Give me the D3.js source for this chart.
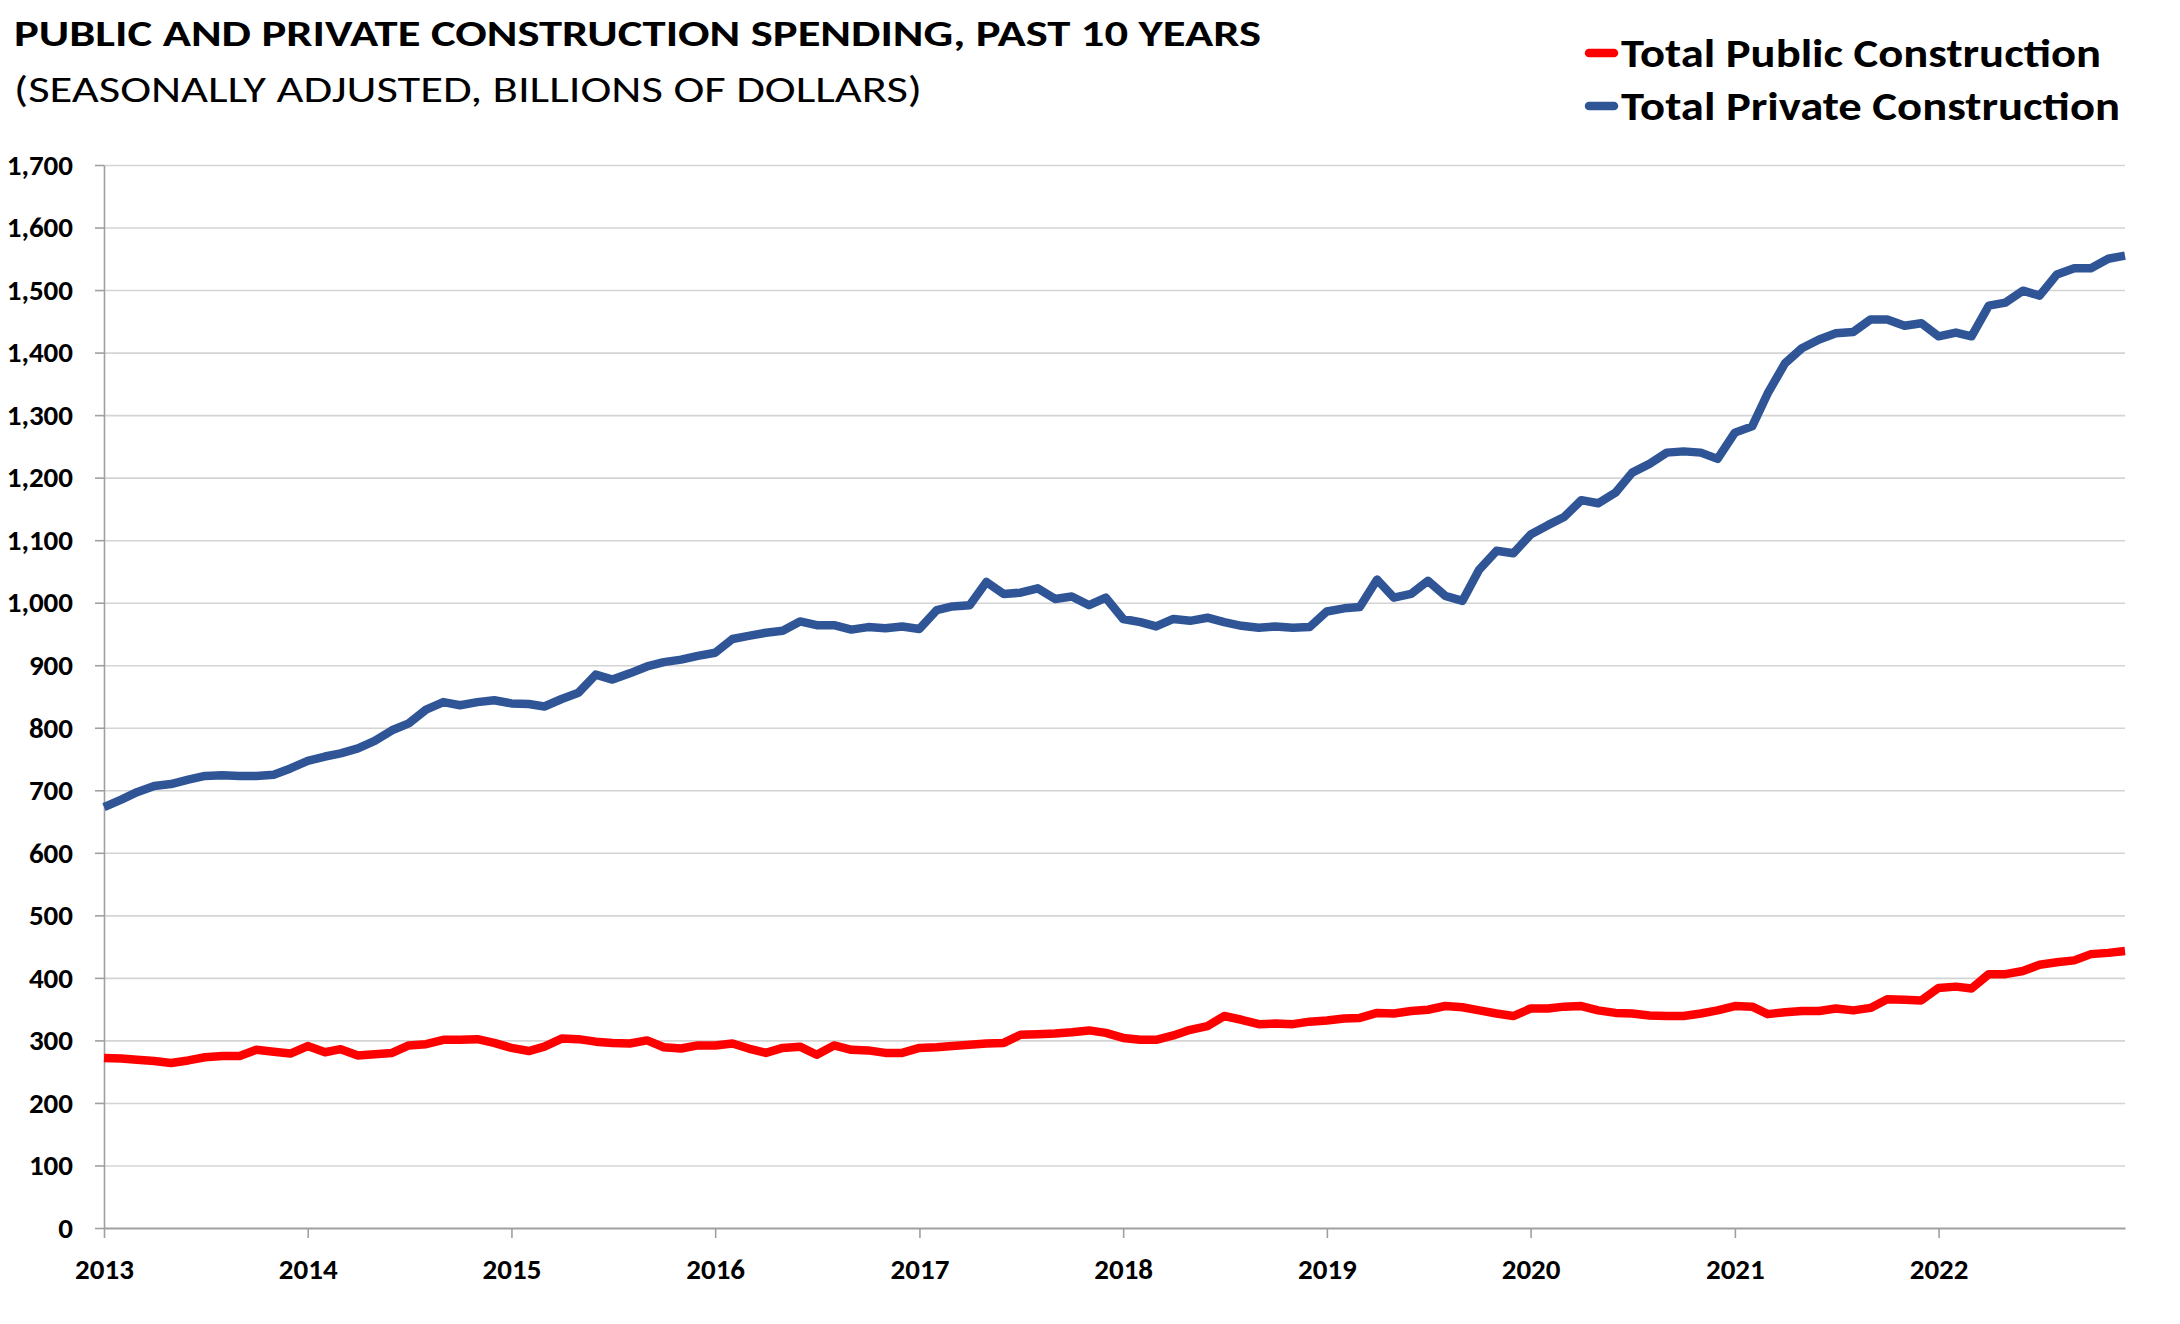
<!DOCTYPE html>
<html>
<head>
<meta charset="utf-8">
<script src="https://cdn.jsdelivr.net/npm/d3@7"></script>
<style>
  body { margin: 0; background: #fff; }
  text { font-family: Calibri, Carlito, Lato, sans-serif; fill: #000; }
</style>
</head>
<body>
<script>
// monthly values, Jan 2013 .. Dec 2022 (billions of dollars, SAAR)
var publicSpend = [
  272, 271, 269, 267, 264, 268, 273, 275, 275, 285, 282, 279,
  291, 281, 286, 276, 278, 280, 292, 294, 301, 301, 302, 296,
  288, 283, 290, 303, 302, 298, 296, 295, 300, 289, 287, 292,
  292, 295, 287, 280, 288, 290, 277, 292, 285, 284, 280, 280,
  288, 289, 291, 293, 295, 296, 309, 310, 311, 313, 316, 312,
  304, 301, 301, 308, 317, 323, 339, 333, 326, 327, 326, 330,
  332, 335, 336, 344, 343, 347, 349, 355, 353, 348, 343, 339,
  351, 351, 354, 355, 348, 344, 343, 340, 339, 339, 343, 348,
  355, 354, 342, 345, 347, 347, 351, 348, 352, 366, 365, 364,
  384, 386, 383, 406, 406, 411, 421, 425, 428, 438, 440, 443
];
var privateSpend = [
  673, 685, 697, 707, 710, 717, 723, 724, 723, 723, 725, 735,
  747, 754, 759, 767, 779, 796, 807, 829, 841, 836, 841, 844,
  839, 838, 834, 846, 856, 885, 877, 887, 898, 905, 909, 915,
  920, 942, 947, 952, 955, 970, 964, 964, 957, 961, 959, 962,
  958, 988, 994, 996, 1033, 1014, 1016, 1023, 1006, 1010, 996, 1008,
  974, 969, 962, 974, 971, 976, 969, 963, 960, 962, 960, 961,
  986, 991, 993, 1037, 1008, 1014, 1035, 1011, 1003, 1053, 1083, 1079,
  1109, 1124, 1137, 1164, 1159, 1176, 1208, 1222, 1240, 1242, 1240, 1230,
  1272, 1282, 1335, 1383, 1407, 1421, 1431, 1433, 1453, 1453, 1443, 1447,
  1426, 1432, 1426, 1475, 1480, 1499, 1491, 1525, 1535, 1535, 1550, 1555
];
var seriesNames = ["Total Public Construction", "Total Private Construction"];
var seriesColors = ["#FF0000", "#2F5597"];
var yTicks = d3.range(0, 1701, 100);
var titleText = "PUBLIC AND PRIVATE CONSTRUCTION SPENDING, PAST 10 YEARS";
var subtitleText = "(SEASONALLY ADJUSTED, BILLIONS OF DOLLARS)";

var months = d3.timeMonth.range(new Date(2013, 0, 1), new Date(2023, 0, 1));

var width = 2180,
    height = 1324;
// plot frame (named so as not to clash with window.top)
var plotLeft = 104, plotRight = 2125, plotTop = 165, plotBottom = 1228;

var svg = d3.select("body").append("svg")
    .attr("width", width)
    .attr("height", height);

var x = d3.scaleTime()
    .domain([months[0], months[months.length - 1]])
    .range([plotLeft, plotRight]);

var y = d3.scaleLinear()
    .domain([0, 1700])
    .range([plotBottom, plotTop]);

// gridlines
svg.append("g")
    .attr("transform", "translate(" + plotLeft + ",0)")
    .call(d3.axisLeft(y).tickValues(yTicks.slice(1)).tickSize(-(plotRight - plotLeft)).tickFormat(""))
    .call(function (g) {
      g.select(".domain").remove();
      g.selectAll("line").attr("stroke", "#d4d4d4").attr("stroke-width", 1.6);
    });

// y axis
svg.append("g")
    .attr("transform", "translate(" + plotLeft + ",0)")
    .call(d3.axisLeft(y).tickValues(yTicks).tickSize(9).tickSizeOuter(0).tickPadding(22).tickFormat(d3.format(",")))
    .call(function (g) {
      g.select(".domain").attr("stroke", "#a0a0a0").attr("stroke-width", 1.6);
      g.selectAll("line").attr("stroke", "#a0a0a0").attr("stroke-width", 1.6);
      g.selectAll("text").attr("font-size", 29).attr("font-weight", "bold")
        .style("font-family", "Calibri, Carlito, Lato, sans-serif").attr("fill", "#000");
    });

// x axis
svg.append("g")
    .attr("transform", "translate(0," + plotBottom + ")")
    .call(d3.axisBottom(x).ticks(d3.timeYear.every(1)).tickSize(10).tickSizeOuter(0).tickPadding(20).tickFormat(d3.timeFormat("%Y")))
    .call(function (g) {
      g.select(".domain").attr("stroke", "#a0a0a0").attr("stroke-width", 2);
      g.selectAll("line").attr("stroke", "#a0a0a0").attr("stroke-width", 1.6);
      g.selectAll("text").attr("font-size", 29).attr("font-weight", "bold")
        .style("font-family", "Calibri, Carlito, Lato, sans-serif").attr("fill", "#000");
    });

var line = d3.line()
    .x(function (d, i) { return x(months[i]); })
    .y(function (d) { return y(d); });

[publicSpend, privateSpend].forEach(function (s, k) {
  svg.append("path")
      .datum(s)
      .attr("fill", "none")
      .attr("stroke", seriesColors[k])
      .attr("stroke-width", 8.5)
      .attr("stroke-linejoin", "round")
      .attr("d", line);
});

// titles
svg.append("text")
    .attr("x", 14).attr("y", 46)
    .attr("font-size", 36).attr("font-weight", "bold")
    .attr("textLength", 1247).attr("lengthAdjust", "spacingAndGlyphs")
    .text(titleText);

svg.append("text")
    .attr("x", 14).attr("y", 102)
    .attr("font-size", 37)
    .attr("textLength", 908).attr("lengthAdjust", "spacingAndGlyphs")
    .text(subtitleText);

// legend
var legendY = [53, 106];
var legendLen = [480, 499];
seriesNames.forEach(function (name, k) {
  var g = svg.append("g").attr("transform", "translate(0," + legendY[k] + ")");
  g.append("line")
      .attr("x1", 1589).attr("x2", 1614)
      .attr("stroke", seriesColors[k])
      .attr("stroke-width", 8.5)
      .attr("stroke-linecap", "round");
  g.append("text")
      .attr("x", 1621).attr("y", 14)
      .attr("font-size", 41).attr("font-weight", "bold")
      .attr("textLength", legendLen[k]).attr("lengthAdjust", "spacingAndGlyphs")
      .text(name);
});
</script>
</body>
</html>
